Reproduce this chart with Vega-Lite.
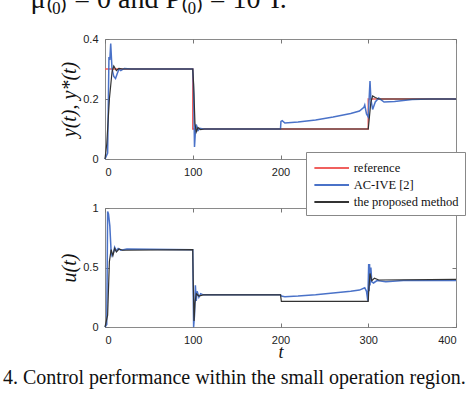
{
  "$schema": "https://vega.github.io/schema/vega-lite/v6.json",
  "background": "white",
  "padding": {"left": 2, "top": -15, "right": 2, "bottom": 5},
  "title": {"text": "μ₍₀₎ = 0 and P₍₀₎ = 10⁴I.", "anchor": "start", "font": "Liberation Serif", "fontSize": 28, "fontWeight": "normal", "color": "#111", "offset": 19, "dx": 28},
  "datasets": {
    "topRef": [
      {"t": 0, "v": 0.3, "series": "reference"},
      {"t": 100, "v": 0.3, "series": "reference"},
      {"t": 100, "v": 0.1, "series": "reference"},
      {"t": 300, "v": 0.1, "series": "reference"},
      {"t": 300, "v": 0.2, "series": "reference"},
      {"t": 400, "v": 0.2, "series": "reference"}
    ],
    "topBlue": [
      {"t": 0, "v": 0, "series": "AC-IVE [2]"},
      {"t": 3, "v": 0.02, "series": "AC-IVE [2]"},
      {"t": 4.5, "v": 0.34, "series": "AC-IVE [2]"},
      {"t": 5.5, "v": 0.33, "series": "AC-IVE [2]"},
      {"t": 6.5, "v": 0.385, "series": "AC-IVE [2]"},
      {"t": 8, "v": 0.3, "series": "AC-IVE [2]"},
      {"t": 10, "v": 0.275, "series": "AC-IVE [2]"},
      {"t": 12, "v": 0.268, "series": "AC-IVE [2]"},
      {"t": 14, "v": 0.285, "series": "AC-IVE [2]"},
      {"t": 16, "v": 0.3, "series": "AC-IVE [2]"},
      {"t": 18, "v": 0.295, "series": "AC-IVE [2]"},
      {"t": 22, "v": 0.302, "series": "AC-IVE [2]"},
      {"t": 30, "v": 0.3, "series": "AC-IVE [2]"},
      {"t": 100, "v": 0.3, "series": "AC-IVE [2]"},
      {"t": 101, "v": 0.22, "series": "AC-IVE [2]"},
      {"t": 102, "v": 0.04, "series": "AC-IVE [2]"},
      {"t": 103, "v": 0.09, "series": "AC-IVE [2]"},
      {"t": 104, "v": 0.115, "series": "AC-IVE [2]"},
      {"t": 106, "v": 0.095, "series": "AC-IVE [2]"},
      {"t": 108, "v": 0.102, "series": "AC-IVE [2]"},
      {"t": 112, "v": 0.1, "series": "AC-IVE [2]"},
      {"t": 200, "v": 0.1, "series": "AC-IVE [2]"},
      {"t": 200.5, "v": 0.125, "series": "AC-IVE [2]"},
      {"t": 202, "v": 0.128, "series": "AC-IVE [2]"},
      {"t": 205, "v": 0.12, "series": "AC-IVE [2]"},
      {"t": 220, "v": 0.123, "series": "AC-IVE [2]"},
      {"t": 240, "v": 0.13, "series": "AC-IVE [2]"},
      {"t": 260, "v": 0.14, "series": "AC-IVE [2]"},
      {"t": 280, "v": 0.152, "series": "AC-IVE [2]"},
      {"t": 290, "v": 0.16, "series": "AC-IVE [2]"},
      {"t": 295, "v": 0.172, "series": "AC-IVE [2]"},
      {"t": 296, "v": 0.18, "series": "AC-IVE [2]"},
      {"t": 298, "v": 0.15, "series": "AC-IVE [2]"},
      {"t": 300, "v": 0.14, "series": "AC-IVE [2]"},
      {"t": 301, "v": 0.2, "series": "AC-IVE [2]"},
      {"t": 302, "v": 0.26, "series": "AC-IVE [2]"},
      {"t": 303, "v": 0.2, "series": "AC-IVE [2]"},
      {"t": 305, "v": 0.165, "series": "AC-IVE [2]"},
      {"t": 308, "v": 0.19, "series": "AC-IVE [2]"},
      {"t": 312, "v": 0.203, "series": "AC-IVE [2]"},
      {"t": 318, "v": 0.19, "series": "AC-IVE [2]"},
      {"t": 330, "v": 0.192, "series": "AC-IVE [2]"},
      {"t": 350, "v": 0.198, "series": "AC-IVE [2]"},
      {"t": 370, "v": 0.2, "series": "AC-IVE [2]"},
      {"t": 400, "v": 0.2, "series": "AC-IVE [2]"}
    ],
    "topBlack": [
      {"t": 0, "v": 0, "series": "the proposed method"},
      {"t": 2, "v": 0.05, "series": "the proposed method"},
      {"t": 5, "v": 0.2, "series": "the proposed method"},
      {"t": 8, "v": 0.29, "series": "the proposed method"},
      {"t": 10, "v": 0.31, "series": "the proposed method"},
      {"t": 13, "v": 0.295, "series": "the proposed method"},
      {"t": 16, "v": 0.302, "series": "the proposed method"},
      {"t": 20, "v": 0.3, "series": "the proposed method"},
      {"t": 100, "v": 0.3, "series": "the proposed method"},
      {"t": 101, "v": 0.25, "series": "the proposed method"},
      {"t": 102.5, "v": 0.12, "series": "the proposed method"},
      {"t": 104, "v": 0.09, "series": "the proposed method"},
      {"t": 106, "v": 0.105, "series": "the proposed method"},
      {"t": 109, "v": 0.098, "series": "the proposed method"},
      {"t": 113, "v": 0.1, "series": "the proposed method"},
      {"t": 300, "v": 0.1, "series": "the proposed method"},
      {"t": 301, "v": 0.13, "series": "the proposed method"},
      {"t": 303, "v": 0.19, "series": "the proposed method"},
      {"t": 305, "v": 0.21, "series": "the proposed method"},
      {"t": 308, "v": 0.205, "series": "the proposed method"},
      {"t": 312, "v": 0.2, "series": "the proposed method"},
      {"t": 400, "v": 0.2, "series": "the proposed method"}
    ],
    "botBlue": [
      {"t": 0, "v": 0, "series": "AC-IVE [2]"},
      {"t": 2, "v": 0.02, "series": "AC-IVE [2]"},
      {"t": 3, "v": 0.97, "series": "AC-IVE [2]"},
      {"t": 4, "v": 0.95, "series": "AC-IVE [2]"},
      {"t": 5.5, "v": 0.85, "series": "AC-IVE [2]"},
      {"t": 7, "v": 0.63, "series": "AC-IVE [2]"},
      {"t": 8, "v": 0.6, "series": "AC-IVE [2]"},
      {"t": 9.5, "v": 0.62, "series": "AC-IVE [2]"},
      {"t": 11, "v": 0.67, "series": "AC-IVE [2]"},
      {"t": 13, "v": 0.64, "series": "AC-IVE [2]"},
      {"t": 15, "v": 0.66, "series": "AC-IVE [2]"},
      {"t": 18, "v": 0.645, "series": "AC-IVE [2]"},
      {"t": 25, "v": 0.655, "series": "AC-IVE [2]"},
      {"t": 100, "v": 0.65, "series": "AC-IVE [2]"},
      {"t": 100.5, "v": 0.3, "series": "AC-IVE [2]"},
      {"t": 101, "v": 0, "series": "AC-IVE [2]"},
      {"t": 102, "v": 0.1, "series": "AC-IVE [2]"},
      {"t": 103, "v": 0.35, "series": "AC-IVE [2]"},
      {"t": 104, "v": 0.22, "series": "AC-IVE [2]"},
      {"t": 105, "v": 0.3, "series": "AC-IVE [2]"},
      {"t": 107, "v": 0.25, "series": "AC-IVE [2]"},
      {"t": 109, "v": 0.28, "series": "AC-IVE [2]"},
      {"t": 112, "v": 0.27, "series": "AC-IVE [2]"},
      {"t": 200, "v": 0.27, "series": "AC-IVE [2]"},
      {"t": 201, "v": 0.26, "series": "AC-IVE [2]"},
      {"t": 205, "v": 0.255, "series": "AC-IVE [2]"},
      {"t": 220, "v": 0.26, "series": "AC-IVE [2]"},
      {"t": 240, "v": 0.27, "series": "AC-IVE [2]"},
      {"t": 260, "v": 0.285, "series": "AC-IVE [2]"},
      {"t": 280, "v": 0.3, "series": "AC-IVE [2]"},
      {"t": 290, "v": 0.31, "series": "AC-IVE [2]"},
      {"t": 296, "v": 0.33, "series": "AC-IVE [2]"},
      {"t": 298, "v": 0.3, "series": "AC-IVE [2]"},
      {"t": 299.5, "v": 0.22, "series": "AC-IVE [2]"},
      {"t": 300.5, "v": 0.53, "series": "AC-IVE [2]"},
      {"t": 301, "v": 0.3, "series": "AC-IVE [2]"},
      {"t": 301.5, "v": 0.53, "series": "AC-IVE [2]"},
      {"t": 302, "v": 0.35, "series": "AC-IVE [2]"},
      {"t": 303, "v": 0.5, "series": "AC-IVE [2]"},
      {"t": 304, "v": 0.38, "series": "AC-IVE [2]"},
      {"t": 306, "v": 0.37, "series": "AC-IVE [2]"},
      {"t": 310, "v": 0.39, "series": "AC-IVE [2]"},
      {"t": 320, "v": 0.38, "series": "AC-IVE [2]"},
      {"t": 340, "v": 0.39, "series": "AC-IVE [2]"},
      {"t": 400, "v": 0.39, "series": "AC-IVE [2]"}
    ],
    "botBlack": [
      {"t": 0, "v": 0, "series": "the proposed method"},
      {"t": 3, "v": 0.1, "series": "the proposed method"},
      {"t": 5, "v": 0.55, "series": "the proposed method"},
      {"t": 7, "v": 0.65, "series": "the proposed method"},
      {"t": 9, "v": 0.6, "series": "the proposed method"},
      {"t": 11, "v": 0.66, "series": "the proposed method"},
      {"t": 13, "v": 0.63, "series": "the proposed method"},
      {"t": 16, "v": 0.655, "series": "the proposed method"},
      {"t": 20, "v": 0.645, "series": "the proposed method"},
      {"t": 100, "v": 0.65, "series": "the proposed method"},
      {"t": 100.5, "v": 0.4, "series": "the proposed method"},
      {"t": 101.5, "v": 0.05, "series": "the proposed method"},
      {"t": 102.5, "v": 0.2, "series": "the proposed method"},
      {"t": 104, "v": 0.28, "series": "the proposed method"},
      {"t": 107, "v": 0.26, "series": "the proposed method"},
      {"t": 112, "v": 0.27, "series": "the proposed method"},
      {"t": 200, "v": 0.27, "series": "the proposed method"},
      {"t": 201, "v": 0.215, "series": "the proposed method"},
      {"t": 300, "v": 0.215, "series": "the proposed method"},
      {"t": 300.5, "v": 0.3, "series": "the proposed method"},
      {"t": 302, "v": 0.45, "series": "the proposed method"},
      {"t": 304, "v": 0.39, "series": "the proposed method"},
      {"t": 307, "v": 0.41, "series": "the proposed method"},
      {"t": 312, "v": 0.395, "series": "the proposed method"},
      {"t": 400, "v": 0.4, "series": "the proposed method"}
    ]
  },
  "spacing": 23,
  "vconcat": [
    {
      "width": 351,
      "height": 120,
      "layer": [
        {
          "data": {"name": "topRef"},
          "mark": {"type": "line", "strokeWidth": 1.5},
          "encoding": {
            "x": {"field": "t", "type": "quantitative", "scale": {"domain": [0, 400], "nice": false}, "axis": {"orient": "top", "labels": false, "values": [0, 100, 200, 300, 400], "title": null}},
            "y": {"field": "v", "type": "quantitative", "scale": {"domain": [0, 0.4], "nice": false}, "axis": {"orient": "right", "labels": false, "values": [0, 0.2, 0.4], "title": null}},
            "color": {"field": "series", "type": "nominal", "scale": {"domain": ["reference", "AC-IVE [2]", "the proposed method"], "range": ["#f0605e", "#4a72c8", "#333333"]}, "title": null},
            "order": {"value": null}
          }
        },
        {
          "data": {"name": "topBlue"},
          "mark": {"type": "line", "strokeWidth": 1.5},
          "encoding": {
            "x": {"field": "t", "type": "quantitative", "axis": {"orient": "bottom", "values": [0, 100, 200, 300, 400], "title": null}},
            "y": {"field": "v", "type": "quantitative", "axis": {"orient": "left", "values": [0, 0.2, 0.4], "format": "~g", "title": "y(t), y*(t)"}},
            "color": {"field": "series", "type": "nominal"},
            "order": {"value": null}
          }
        },
        {
          "data": {"name": "topBlack"},
          "mark": {"type": "line", "strokeWidth": 1.2},
          "encoding": {
            "x": {"field": "t", "type": "quantitative", "axis": null},
            "y": {"field": "v", "type": "quantitative", "axis": null},
            "color": {"field": "series", "type": "nominal"},
            "order": {"value": null}
          }
        }
      ],
      "resolve": {"axis": {"x": "independent", "y": "independent"}}
    },
    {
      "width": 351,
      "height": 119,
      "title": {"text": "4. Control performance within the small operation region.", "orient": "bottom", "anchor": "start", "frame": "group", "font": "Liberation Serif", "fontSize": 20, "fontWeight": "normal", "color": "#111", "offset": 7, "dx": -102},
      "layer": [
        {
          "data": {"name": "botBlue"},
          "mark": {"type": "line", "strokeWidth": 1.5},
          "encoding": {
            "x": {"field": "t", "type": "quantitative", "scale": {"domain": [0, 400], "nice": false}, "axis": {"orient": "top", "labels": false, "values": [0, 100, 200, 300, 400], "title": null}},
            "y": {"field": "v", "type": "quantitative", "scale": {"domain": [0, 1], "nice": false}, "axis": {"orient": "right", "labels": false, "values": [0, 0.5, 1], "title": null}},
            "color": {"field": "series", "type": "nominal"},
            "order": {"value": null}
          }
        },
        {
          "data": {"name": "botBlack"},
          "mark": {"type": "line", "strokeWidth": 1.2},
          "encoding": {
            "x": {"field": "t", "type": "quantitative", "axis": {"orient": "bottom", "values": [0, 100, 200, 300, 400], "title": "t", "titlePadding": -2, "titleFontSize": 18}},
            "y": {"field": "v", "type": "quantitative", "axis": {"orient": "left", "values": [0, 0.5, 1], "format": "~g", "title": "u(t)"}},
            "color": {"field": "series", "type": "nominal"},
            "order": {"value": null}
          }
        }
      ],
      "resolve": {"axis": {"x": "independent", "y": "independent"}}
    }
  ],
  "config": {
    "view": {"stroke": "#8a8a8a", "strokeWidth": 1},
    "axis": {"labelFont": "Liberation Sans", "labelFontSize": 11, "labelColor": "#222", "domain": false, "grid": false, "tickColor": "#777", "tickSize": -4, "labelPadding": 11, "titleFont": "Liberation Serif", "titleFontStyle": "italic", "titleFontWeight": "normal", "titleFontSize": 20, "titleColor": "#111", "titlePadding": 3},
    "legend": {"orient": "none", "legendX": 201, "legendY": 113, "fillColor": "white", "strokeColor": "#888", "padding": 6, "symbolType": "M-2,0H2", "symbolSize": 300, "symbolOffset": 9.7, "symbolStrokeWidth": 2, "labelFont": "Liberation Serif", "labelFontSize": 12.5, "labelColor": "#111", "rowPadding": 0, "labelOffset": 12}
  }
}
